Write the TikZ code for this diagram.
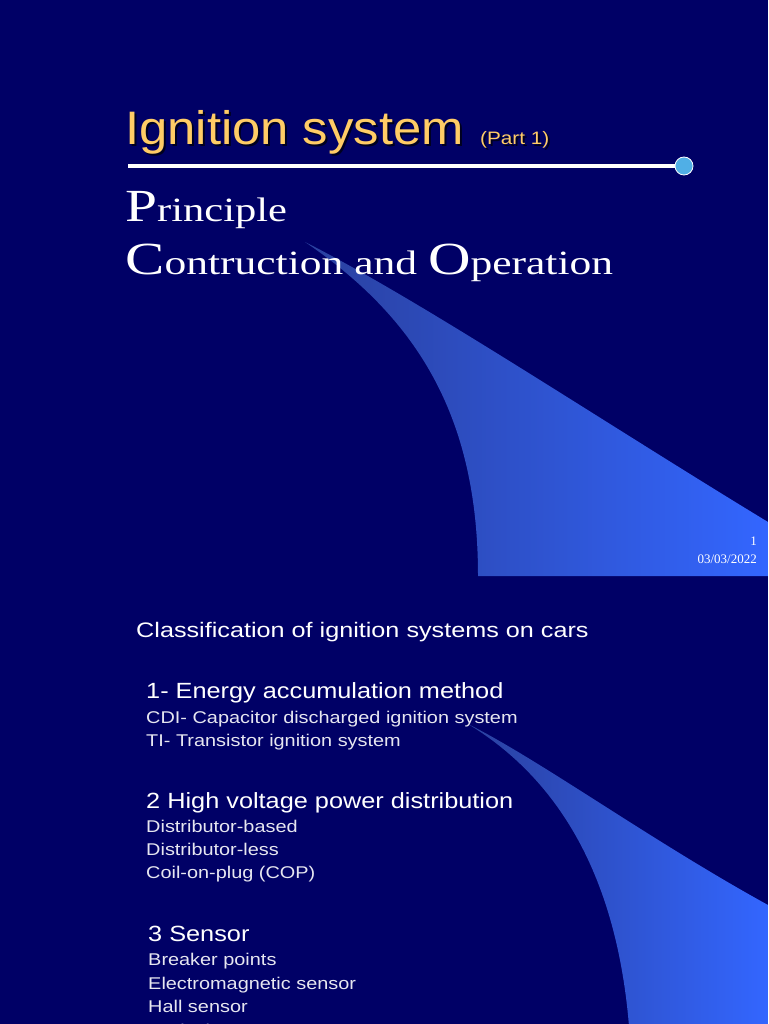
\documentclass[tikz,border=0pt]{standalone}
\usepackage{fontspec}
\setmainfont{Liberation Serif}
\newfontfamily\arial{Liberation Sans}
\begin{document}
\begin{tikzpicture}[x=1pt,y=-1pt,
  base/.style={inner sep=0pt,anchor=base west},
  head/.style={base,xscale=1.15,font=\arial\fontsize{22}{24}\selectfont,text=white},
  sub/.style={base,xscale=1.17,font=\arial\fontsize{17}{19}\selectfont,text={rgb,255:red,230;green,230;blue,240}}]
\definecolor{bg}{HTML}{000066}
\definecolor{gold}{HTML}{FFCC66}
\definecolor{swA}{HTML}{2A409F}
\definecolor{swB}{HTML}{3366FF}
\useasboundingbox (0,0) rectangle (768,1024);
\fill[bg] (0,0) rectangle (768,1024);
% swoosh slide 1
\begin{scope}
\clip (0,0) rectangle (768,576);
\shade[left color=swA,right color=swB] (305,242) .. controls (420,320) and (478,420) .. (478,576) -- (768,576) -- (768,522) .. controls (600,420) and (420,300) .. (305,242) -- cycle;
\end{scope}
% swoosh slide 2
\begin{scope}
\clip (0,577) rectangle (768,1024);
\shade[left color=swA,right color=swB] (468,724) .. controls (560,780) and (620,880) .. (630,1040) -- (768,1040) -- (768,905) .. controls (650,840) and (540,760) .. (468,724) -- cycle;
\end{scope}
% title
\node[base,xscale=1.08,font=\arial\fontsize{47}{50}\selectfont,text=black!70!bg] at (127,147) {Ignition system};
\node[base,xscale=1.08,font=\arial\fontsize{47}{50}\selectfont,text=gold] (t1) at (125,145) {Ignition system};
\node[base,xscale=1.15,font=\arial\fontsize{18}{20}\selectfont,text=black!70!bg] at (482,147) {(Part 1)};
\node[base,xscale=1.15,font=\arial\fontsize{18}{20}\selectfont,text=gold] (t2) at (480,145) {(Part 1)};
\coordinate (l0) at (128,166);
\node[circle,fill=cyan!80!blue!70!white,draw=white,line width=0.8pt,minimum size=18pt,inner sep=0pt] (dot) at (684,166) {};
\draw[white,line width=4pt] (l0) -- (dot.west);
\node[base,xscale=1.25,text=white] (p) at (125,222) {{\fontsize{46}{48}\selectfont P}{\fontsize{34}{36}\selectfont rinciple}};
\node[base,xscale=1.28,text=white] (c) at (125,274) {{\fontsize{46}{48}\selectfont C}{\fontsize{34}{36}\selectfont ontruction and }{\fontsize{46}{48}\selectfont O}{\fontsize{34}{36}\selectfont peration}};
\node[inner sep=0pt,anchor=base east,text=white,font=\fontsize{13}{14}\selectfont] (n1) at (757,545) {1};
\node[inner sep=0pt,anchor=base east,text=white,font=\fontsize{13}{14}\selectfont] (d1) at (757,563) {03/03/2022};
% slide 2
\node[base,xscale=1.2,font=\arial\fontsize{21}{23}\selectfont,text=white] (h0) at (136,637) {Classification of ignition systems on cars};
\node[head] (h1) at (146,698) {1- Energy accumulation method};
\node[sub] (a1) at (146,723) {CDI- Capacitor discharged ignition system};
\node[sub] (a2) at (146,746) {TI- Transistor ignition system};
\node[head] (h2) at (146,808) {2 High voltage power distribution};
\node[sub] (b1) at (146,832) {Distributor-based};
\node[sub] (b2) at (146,855) {Distributor-less};
\node[sub] (b3) at (146,878) {Coil-on-plug (COP)};
\node[head] (h3) at (148,941) {3 Sensor};
\node[sub] (c1) at (148,965) {Breaker points};
\node[sub] (c2) at (148,989) {Electromagnetic sensor};
\node[sub] (c3) at (148,1012) {Hall sensor};
\node[sub] (c4) at (148,1036) {Optical sensor};
\end{tikzpicture}
\end{document}
